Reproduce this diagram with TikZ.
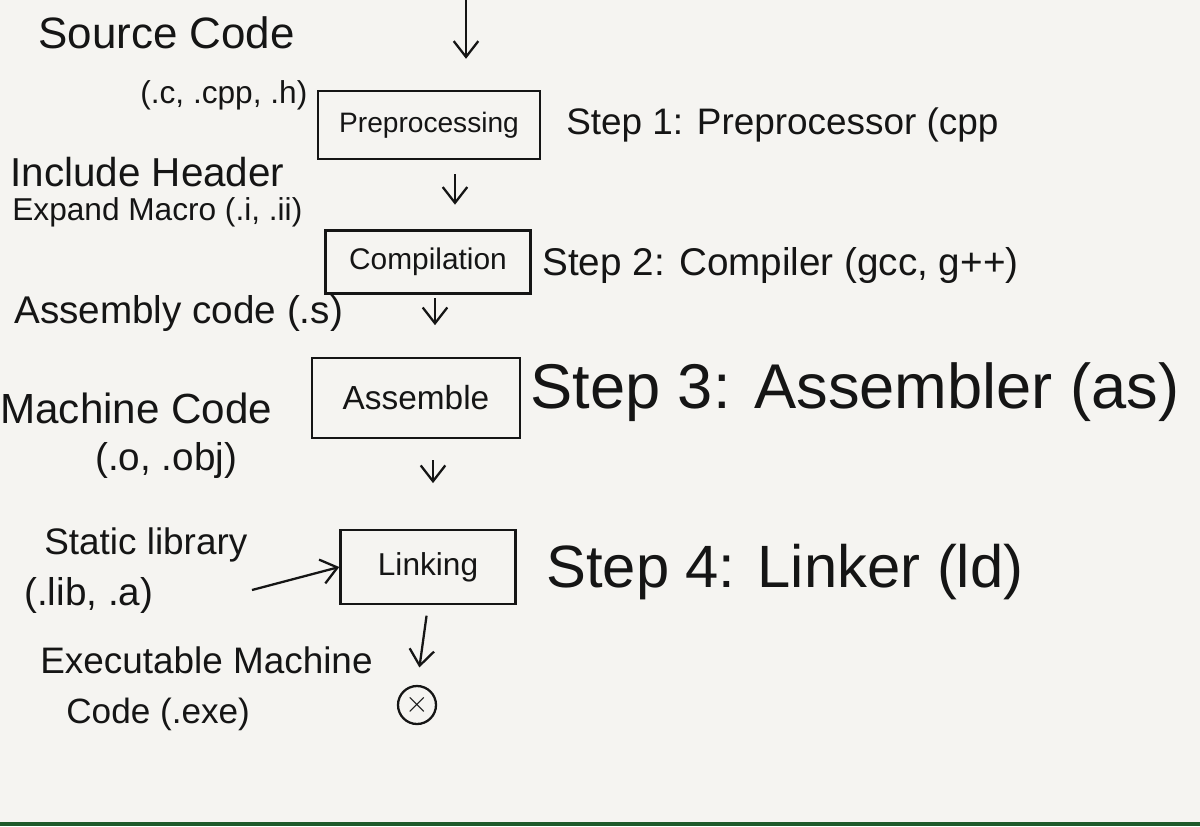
\documentclass[tikz,border=0pt]{standalone}
\usepackage{fontspec}
\setmainfont{Liberation Sans}
\usepackage{xcolor}
\usetikzlibrary{arrows.meta}
\definecolor{paper}{HTML}{F5F4F1}
\definecolor{ink}{HTML}{151515}
\definecolor{rule}{HTML}{1E5A2A}
\tikzset{
    note/.style={anchor=west, text=ink, inner sep=0pt, font=\fontsize{#1}{#1}\selectfont},
    stagebox/.style={draw=ink, line width=1.4pt, inner xsep=8pt, inner ysep=10pt, text=ink, font=\fontsize{#1}{#1}\selectfont},
    flow/.style={-{Straight Barb[length=9pt, width=14pt]}, line width=1.3pt, draw=ink}
}
\begin{document}
\begin{tikzpicture}[x=0.02cm, y=-0.02cm]
    \useasboundingbox (0,0) rectangle (1200,826);
    \fill[paper] (0,0) rectangle (1200,826);
    \fill[rule] (0,822) rectangle (1200,826);

    % stages of the build
    \node[stagebox=16, minimum width=222*0.02cm, minimum height=68*0.02cm] (prep) at (429,125) {Preprocessing};
    \node[stagebox=17, minimum width=205*0.02cm, minimum height=62*0.02cm] (comp) at (428,262) {Compilation};
    \node[stagebox=19, minimum width=208*0.02cm, minimum height=80*0.02cm] (asmb) at (416,398) {Assemble};
    \node[stagebox=18, minimum width=175*0.02cm, minimum height=74*0.02cm] (link) at (428,567) {Linking};
    \node[draw=ink, circle, line width=1.3pt, minimum size=38*0.02cm, inner sep=0pt, text=ink, font=\fontsize{16}{16}\selectfont] (done) at (417,705) {$\times$};

    % tools used at each stage
    \node[note=21] (step1) at (566,125) {Step 1: Preprocessor (cpp};
    \node[note=22] (step2) at (542,265) {Step 2: Compiler (gcc, g++)};
    \node[note=36] (step3) at (530,392) {Step 3: Assembler (as)};
    \node[note=34] (step4) at (546,572) {Step 4: Linker (ld)};

    % files passed between stages
    \node[note=25] (src) at (38,33) {Source Code};
    \node[note=18] (srcext) at (140,95) {(.c, .cpp, .h)};
    \node[note=23] (incl) at (10,172) {Include Header};
    \node[note=18] (macro) at (12,212) {Expand Macro (.i, .ii)};
    \node[note=22] (asmcode) at (14,313) {Assembly code (.s)};
    \node[note=24] (mach) at (0,408) {Machine Code};
    \node[note=22] (machext) at (95,460) {(.o, .obj)};
    \node[note=21] (lib) at (44,545) {Static library};
    \node[note=22] (libext) at (24,595) {(.lib, .a)};
    \node[note=21] (exe) at (40,660) {Executable Machine};
    \node[note=20] (exeext) at (66,714) {Code (.exe)};

    \coordinate (entry) at (466,0);
    \coordinate (libtail) at (252,590);

    % connectors
    \draw[flow] (entry) -- ([yshift=0.62cm]prep.north -| entry);
    \draw[flow, shorten <=8pt, shorten >=14pt] (prep.south -| 455,0) -- (comp.north -| 455,0);
    \draw[flow, shorten <=2pt, shorten >=18pt] (comp.south -| 435,0) -- (asmb.north -| 435,0);
    \draw[flow, shorten <=12pt, shorten >=26pt] (asmb.south -| 433,0) -- (link.north -| 433,0);
    \draw[flow] (libtail) -- (link.west);
    \draw[flow, shorten <=6pt, shorten >=10pt] (link.south -| 428,0) -- (done.north);
\end{tikzpicture}
\end{document}
